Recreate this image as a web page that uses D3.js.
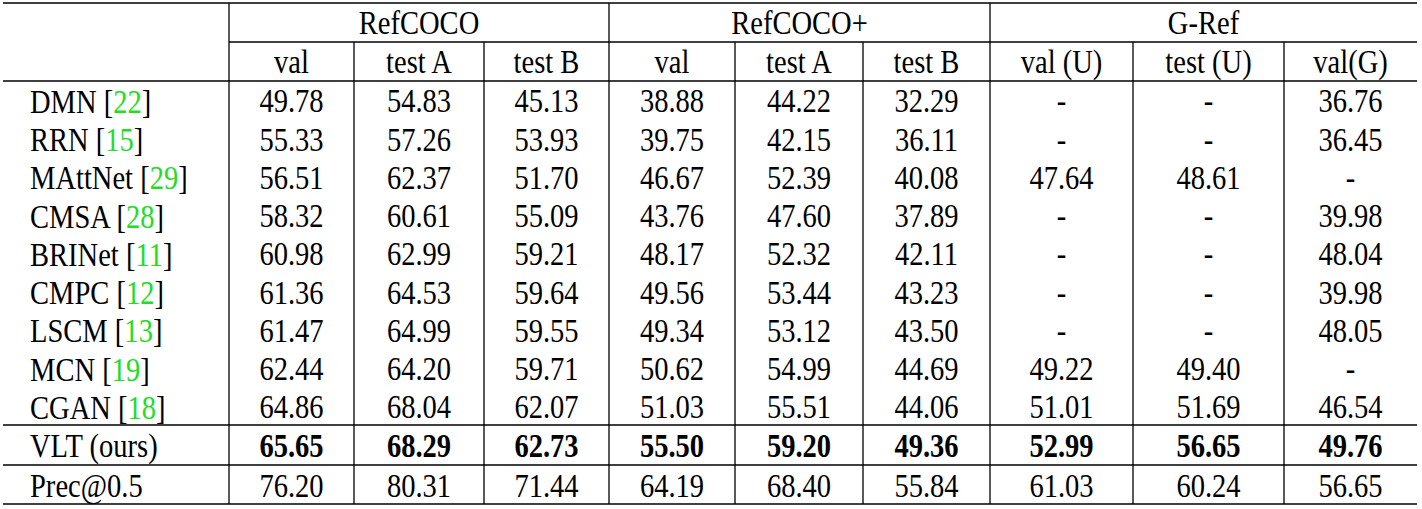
<!DOCTYPE html>
<html><head><meta charset="utf-8">
<script src="https://cdn.jsdelivr.net/npm/d3@7"></script>
<style>body{margin:0;background:#fff}</style></head>
<body><svg id="c" width="1422" height="509"></svg>
<script>
const groups = ["RefCOCO","RefCOCO+","G-Ref"];
const groupSpans = [3,3,3];
const columns = ["val","test A","test B","val","test A","test B","val (U)","test (U)","val(G)"];
const methods = ["DMN","RRN","MAttNet","CMSA","BRINet","CMPC","LSCM","MCN","CGAN","VLT (ours)","Prec@0.5"];
const refs = ["22","15","29","28","11","12","13","19","18",null,null];
const values = [
["49.78","54.83","45.13","38.88","44.22","32.29","-","-","36.76"],
["55.33","57.26","53.93","39.75","42.15","36.11","-","-","36.45"],
["56.51","62.37","51.70","46.67","52.39","40.08","47.64","48.61","-"],
["58.32","60.61","55.09","43.76","47.60","37.89","-","-","39.98"],
["60.98","62.99","59.21","48.17","52.32","42.11","-","-","48.04"],
["61.36","64.53","59.64","49.56","53.44","43.23","-","-","39.98"],
["61.47","64.99","59.55","49.34","53.12","43.50","-","-","48.05"],
["62.44","64.20","59.71","50.62","54.99","44.69","49.22","49.40","-"],
["64.86","68.04","62.07","51.03","55.51","44.06","51.01","51.69","46.54"],
["65.65","68.29","62.73","55.50","59.20","49.36","52.99","56.65","49.76"],
["76.20","80.31","71.44","64.19","68.40","55.84","61.03","60.24","56.65"]];
const boldRow = "VLT (ours)";

const svg = d3.select("#c");
const font = "'Liberation Serif','Times New Roman',serif";
const FS = 34, SX = 0.84;
const colEdges = [229,354,484,609,735,863,990,1133,1284,1417];
const x = i => colEdges[i];
const y = d3.scaleLinear().domain([0,9]).range([81,425]);
const rowTop = i => i<9 ? y(i) : (i===9 ? 425 : 465);
const rowBot = i => i<9 ? y(i+1) : (i===9 ? 465 : 504);
const L = 3, R = 1417;
const line = (x1,y1,x2,y2,w=1.3)=>svg.append("line").attr("x1",x1).attr("y1",y1).attr("x2",x2).attr("y2",y2).attr("stroke","#000").attr("stroke-width",w);
line(L,3,R,3,1.6);
line(229,42,R,42);
line(L,81,R,81);
line(L,425,R,425);
line(L,465,R,465);
line(L,504,R,504,1.6);
line(229,3,229,504);
let gi=0; groupSpans.forEach((s,k)=>{gi+=s; if(k<2) line(x(gi),3,x(gi),504);});
[1,2,4,5,7,8].forEach(i=>line(x(i),42,x(i),504));
const mk=(xx,yy,anchor)=>svg.append("text").attr("transform",`translate(${xx},${yy}) scale(${SX},1)`).attr("text-anchor",anchor)
 .attr("font-family",font).attr("font-size",FS).attr("dominant-baseline","central");
const txt=(s,xx,yy,anchor="middle",bold=false)=>mk(xx,yy,anchor).attr("font-weight",bold?"bold":"normal").text(s);
let c0=0;
groups.forEach((g,k)=>{txt(g,(x(c0)+x(c0+groupSpans[k]))/2,23); c0+=groupSpans[k];});
columns.forEach((c,i)=>txt(c,(x(i)+x(i+1))/2,62));
methods.forEach((m,r)=>{
  const yy=(rowTop(r)+rowBot(r))/2+1;
  const t=mk(30,yy,"start");
  if(refs[r]){t.append("tspan").text(m+" [");t.append("tspan").attr("fill","#22dd22").text(refs[r]);t.append("tspan").text("]");}
  else t.text(m);
  values[r].forEach((v,i)=>txt(v,(x(i)+x(i+1))/2,yy,"middle",m===boldRow));
});
</script></body></html>
